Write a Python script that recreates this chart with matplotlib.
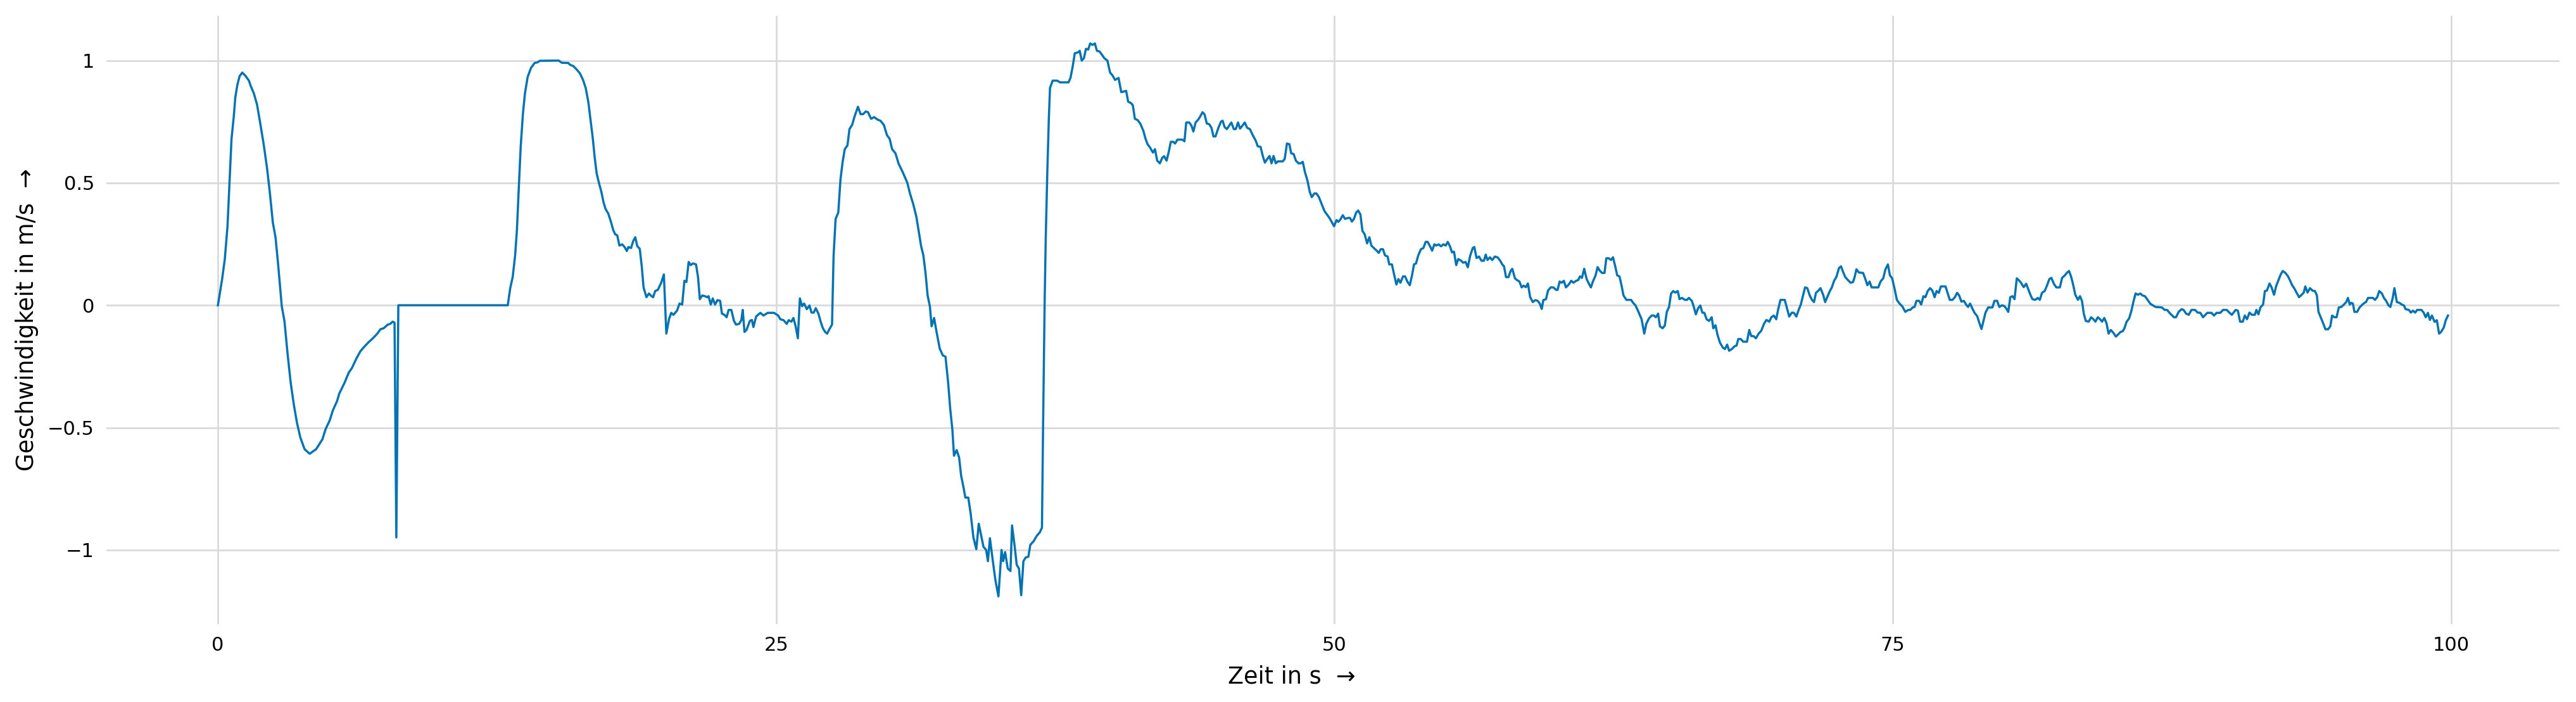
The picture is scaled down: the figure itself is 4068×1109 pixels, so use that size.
import matplotlib.pyplot as plt

zeit = [
    0.00, 0.19, 0.31, 0.43, 0.52, 0.61, 0.71, 0.78, 0.87, 0.97, 1.09, 1.23, 1.39, 1.47, 1.61, 1.75, 1.89,
    2.05, 2.20, 2.33, 2.46, 2.58, 2.69, 2.79, 2.86, 2.98, 3.12, 3.26, 3.40, 3.54, 3.69, 3.88, 4.11, 4.40,
    4.68, 4.82, 5.01, 5.15, 5.34, 5.43, 5.67, 5.86, 6.00, 6.19, 6.38, 6.57, 6.76, 6.95, 7.14, 7.28, 7.42,
    7.61, 7.72, 7.82, 7.91, 7.99, 8.08, 12.98,
    13.09, 13.20, 13.31, 13.39, 13.47, 13.56, 13.66, 13.75, 13.87, 14.02, 14.18, 14.32, 14.41, 15.26,
    15.40, 15.69, 15.78, 15.91, 16.07, 16.21, 16.35, 16.47, 16.59, 16.70, 16.79, 16.87, 16.96, 17.06,
    17.17, 17.27, 17.36, 17.48, 17.61, 17.70, 17.79, 17.88, 17.98, 18.10, 18.21, 18.31, 18.38, 18.50,
    18.60, 18.69, 18.78, 18.89, 18.98, 19.06, 19.19, 19.30, 19.42, 19.49, 19.58, 19.70, 19.85, 19.97,
    20.08, 20.20, 20.30, 20.40, 20.56, 20.67, 20.79, 20.89, 20.98, 21.08, 21.17, 21.27, 21.41, 21.50,
    21.58, 21.69, 21.81, 21.90, 21.97, 22.07, 22.16, 22.26, 22.37, 22.49, 22.57, 22.68, 22.78, 22.87,
    22.99, 23.11, 23.20, 23.34, 23.44, 23.50, 23.58, 23.67, 23.82, 23.91, 23.98, 24.10, 24.29, 24.43,
    24.62, 24.90,
    25.09, 25.18, 25.33, 25.47, 25.56, 25.68, 25.77, 25.87, 25.97, 26.06, 26.16, 26.25, 26.37, 26.49,
    26.58, 26.68, 26.77, 26.89, 26.98, 27.09, 27.19, 27.28, 27.38, 27.50, 27.57, 27.66, 27.78, 27.88,
    27.97, 28.07, 28.19, 28.28, 28.40, 28.51, 28.66, 28.78, 28.89, 29.01, 29.11, 29.25, 29.39, 29.53,
    29.67, 29.82, 29.96, 30.08, 30.19, 30.34, 30.48, 30.67, 30.87, 30.99, 31.14, 31.28, 31.40, 31.49,
    31.59, 31.69, 31.78, 31.88, 31.96, 32.07, 32.18, 32.32, 32.46, 32.58, 32.70, 32.79, 32.89, 32.96,
    33.08, 33.19, 33.28, 33.38, 33.47, 33.60, 33.71, 33.83, 33.96, 34.07, 34.18, 34.28, 34.40, 34.48,
    34.57, 34.68, 34.81, 34.95, 35.09, 35.16, 35.25, 35.37, 35.49, 35.56, 35.68, 35.77, 35.87, 35.97,
    36.07, 36.17, 36.29, 36.38, 36.53, 36.67, 36.81, 36.90, 36.95, 37.02, 37.07, 37.14, 37.21, 37.26,
    37.38, 37.58, 37.71,
    37.85, 38.09, 38.18, 38.28, 38.37, 38.53, 38.59, 38.68, 38.78, 38.87, 38.97, 39.06, 39.17, 39.27,
    39.36, 39.48, 39.60, 39.69, 39.83, 39.95, 40.07, 40.17, 40.33, 40.45, 40.59, 40.67, 40.76, 40.89,
    40.97, 41.06, 41.18, 41.30, 41.44, 41.54, 41.63, 41.73, 41.87, 41.96, 42.06, 42.18, 42.29, 42.37,
    42.48, 42.58, 42.67, 42.78, 42.86, 42.97, 43.10, 43.19, 43.28, 43.36, 43.49, 43.59, 43.68, 43.78,
    43.90, 43.99, 44.09, 44.18, 44.28, 44.39, 44.49, 44.58, 44.67, 44.80, 44.92, 44.99, 45.08, 45.18,
    45.27, 45.38, 45.49, 45.58, 45.68, 45.77, 45.86, 45.98, 46.09, 46.21, 46.34, 46.47, 46.56, 46.69,
    46.78, 46.88, 46.97, 47.09, 47.18, 47.27, 47.37, 47.46, 47.68, 47.77, 47.87, 47.98, 48.06, 48.17,
    48.27, 48.39, 48.48, 48.58, 48.67, 48.79, 48.89, 48.98, 49.10, 49.19, 49.30, 49.43, 49.55, 49.66,
    49.78, 49.98, 50.09, 50.17, 50.26, 50.37, 50.47,
    50.61, 50.69, 50.78, 50.87, 50.97, 51.06, 51.16, 51.25, 51.35, 51.46, 51.56, 51.65, 51.76, 51.89,
    51.98, 52.07, 52.17, 52.26, 52.38, 52.45, 52.57, 52.66, 52.77, 52.86, 52.95, 53.07, 53.16, 53.26,
    53.37, 53.47, 53.56, 53.65, 53.75, 53.87, 53.98, 54.08, 54.17, 54.28, 54.37, 54.47, 54.56, 54.66,
    54.77, 54.88, 54.98, 55.07, 55.17, 55.26, 55.35, 55.45, 55.54, 55.67, 55.76, 55.87, 55.97, 56.07,
    56.19, 56.26, 56.36, 56.47, 56.58, 56.69, 56.77, 56.85, 56.96, 57.06, 57.18, 57.30, 57.42, 57.51,
    57.59, 57.68, 57.79, 57.89, 57.96, 58.08, 58.17, 58.28, 58.38, 58.47, 58.57, 58.66, 58.76, 58.88,
    58.99, 59.10, 59.19, 59.28, 59.35, 59.47, 59.56, 59.68, 59.80, 59.92, 59.99, 60.08, 60.17, 60.27,
    60.36, 60.49, 60.60, 60.70, 60.82, 60.91, 60.99, 61.08, 61.18, 61.29, 61.39, 61.48, 61.57, 61.69,
    61.78, 61.88, 61.98, 62.09, 62.17, 62.28, 62.38, 62.47, 62.57, 62.66, 62.76, 62.85, 62.94, 63.07,
    63.28,
    63.37, 63.48, 63.61, 63.75, 63.81, 63.87, 63.96, 64.08, 64.20, 64.30, 64.39, 64.49, 64.57, 64.69,
    64.79, 64.88, 64.98, 65.07, 65.17, 65.26, 65.37, 65.45, 65.56, 65.69, 65.78, 65.87, 66.00, 66.08,
    66.18, 66.28, 66.38, 66.47, 66.56, 66.66, 66.77, 66.89, 66.96, 67.06, 67.15, 67.26, 67.39, 67.48,
    67.58, 67.67, 67.79, 67.91, 68.00, 68.08, 68.19, 68.30, 68.47, 68.57, 68.66, 68.76, 68.87, 68.99,
    69.11, 69.23, 69.34, 69.47, 69.56, 69.67, 69.78, 69.87, 69.97, 70.16, 70.27, 70.36, 70.48, 70.57,
    70.68, 70.77, 70.88, 70.98, 71.07, 71.17, 71.28, 71.38, 71.47, 71.56, 71.67, 71.76, 71.88, 71.97,
    72.08, 72.18, 72.27, 72.37, 72.47, 72.59, 72.68, 72.77, 72.87, 72.99, 73.11, 73.22, 73.29, 73.37,
    73.48, 73.67, 73.77, 73.86, 73.96, 74.05, 74.35, 74.45, 74.57, 74.67, 74.78, 74.87, 74.97, 75.09,
    75.18, 75.30, 75.42, 75.56, 75.69, 75.78, 75.89, 75.97, 76.06, 76.18,
    76.27, 76.37, 76.46, 76.56, 76.67, 76.77, 76.87, 76.96, 77.06, 77.15, 77.36, 77.45, 77.55, 77.67,
    77.78, 77.88, 77.97, 78.07, 78.18, 78.28, 78.37, 78.46, 78.57, 78.66, 78.78, 78.87, 78.97, 79.06,
    79.15, 79.27, 79.46, 79.55, 79.67, 79.77, 79.89, 80.00, 80.10, 80.17, 80.26, 80.36, 80.45, 80.55,
    80.67, 80.76, 80.86, 80.97, 81.06, 81.16, 81.25, 81.38, 81.49, 81.58, 81.68, 81.80, 81.90, 82.01,
    82.10, 82.21, 82.32, 82.48, 82.58, 82.70, 82.79, 82.89, 82.98, 83.08, 83.17, 83.29, 83.38, 83.47,
    83.55, 83.64, 83.77, 83.88, 83.98, 84.07, 84.18, 84.28, 84.37, 84.47, 84.57, 84.66, 84.76, 84.87,
    84.99, 85.09, 85.20, 85.30, 85.37, 85.47, 85.58, 85.68, 85.77, 85.87, 85.98, 86.08, 86.18, 86.29,
    86.41, 86.53, 86.64, 86.76, 87.05, 87.17, 87.28, 87.42, 87.59, 87.68, 87.80, 87.93, 88.02, 88.13,
    88.25, 88.37, 88.53, 88.65, 88.77,
    88.89, 89.08, 89.27, 89.38, 89.50, 89.66, 89.79, 89.95, 90.07, 90.18, 90.35, 90.45, 90.55, 90.67,
    90.76, 90.86, 90.97, 91.08, 91.21, 91.28, 91.37, 91.46, 91.58, 91.66, 91.75, 91.87, 91.96, 92.07,
    92.17, 92.27, 92.37, 92.46, 92.58, 92.69, 92.78, 92.88, 92.97, 93.10, 93.19, 93.31, 93.40, 93.47,
    93.57, 93.68, 93.79, 93.90, 93.99, 94.06, 94.18, 94.28, 94.37, 94.49, 94.59, 94.67, 94.77, 94.87,
    94.97, 95.08, 95.20, 95.30, 95.38, 95.46, 95.53, 95.60, 95.67, 95.79, 95.90, 96.03, 96.12, 96.19,
    96.28, 96.50, 96.59, 96.69, 96.78, 96.90, 96.99, 97.09, 97.19, 97.28, 97.38, 97.46, 97.57, 97.68,
    97.79, 97.89, 97.96, 98.11, 98.20, 98.29, 98.39, 98.48, 98.67, 98.77, 98.86, 98.96, 99.05, 99.14,
    99.26, 99.36, 99.46, 99.55, 99.67, 99.76, 99.86,
]

geschw = [
    0.000, 0.107, 0.189, 0.323, 0.500, 0.680, 0.770, 0.850, 0.900, 0.936, 0.951, 0.938, 0.918, 0.896,
    0.866, 0.821, 0.747, 0.658, 0.561, 0.457, 0.338, 0.278, 0.174, 0.070, -0.004, -0.064, -0.198,
    -0.317, -0.406, -0.480, -0.540, -0.588, -0.607, -0.588, -0.548, -0.507, -0.470, -0.429, -0.391,
    -0.362, -0.317, -0.275, -0.257, -0.220, -0.188, -0.168, -0.150, -0.134, -0.116, -0.098, -0.094,
    -0.079, -0.076, -0.067, -0.071, -0.949, 0.000, 0.000,
    0.070, 0.115, 0.204, 0.308, 0.472, 0.650, 0.784, 0.866, 0.933, 0.970, 0.990, 0.993, 0.999, 1.000,
    0.991, 0.990, 0.982, 0.978, 0.963, 0.948, 0.921, 0.888, 0.829, 0.747, 0.680, 0.606, 0.539, 0.501,
    0.464, 0.420, 0.393, 0.375, 0.338, 0.308, 0.290, 0.286, 0.244, 0.249, 0.238, 0.222, 0.238, 0.234,
    0.263, 0.278, 0.241, 0.231, 0.159, 0.073, 0.033, 0.048, 0.037, 0.033, 0.058, 0.063, 0.092, 0.126,
    -0.116, -0.057, -0.031, -0.039, -0.022, 0.007, 0.003, 0.100, 0.095, 0.177, 0.164, 0.171, 0.167, 0.115,
    0.025, 0.040, 0.037, 0.033, 0.037, 0.003, 0.028, 0.003, 0.021, 0.018, -0.034, -0.039, -0.049, -0.019,
    -0.019, -0.064, -0.079, -0.076, -0.061, -0.019, -0.109, -0.101, -0.064, -0.060, -0.089, -0.046,
    -0.031, -0.042, -0.031, -0.031,
    -0.042, -0.057, -0.061, -0.076, -0.061, -0.067, -0.052, -0.086, -0.135, 0.028, -0.004, 0.007, -0.016,
    -0.001, -0.030, -0.030, -0.012, -0.034, -0.064, -0.094, -0.109, -0.116, -0.098, -0.079, 0.204, 0.353,
    0.379, 0.516, 0.583, 0.638, 0.653, 0.720, 0.737, 0.772, 0.811, 0.781, 0.781, 0.792, 0.789, 0.762,
    0.769, 0.759, 0.754, 0.737, 0.695, 0.680, 0.638, 0.621, 0.579, 0.543, 0.501, 0.457, 0.412, 0.360,
    0.293, 0.241, 0.204, 0.129, 0.040, -0.004, -0.086, -0.052, -0.109, -0.176, -0.205, -0.210, -0.317,
    -0.421, -0.510, -0.615, -0.592, -0.622, -0.696, -0.741, -0.786, -0.786, -0.853, -0.949, -0.997,
    -0.893, -0.942, -0.987, -1.000, -1.046, -0.952, -1.031, -1.120, -1.190, -1.000, -1.046, -1.009,
    -1.076, -1.086, -0.900, -0.987, -1.061, -1.076, -1.185, -1.046, -1.031, -1.028, -0.979, -0.964,
    -0.942, -0.927, -0.909, -0.496, 0.010, 0.278, 0.546, 0.769, 0.888, 0.918, 0.918, 0.911,
    0.911, 0.911, 0.930, 0.978, 1.030, 1.034, 1.040, 1.000, 1.010, 1.048, 1.045, 1.070, 1.064, 1.070,
    1.040, 1.037, 1.022, 1.010, 1.000, 0.951, 0.938, 0.921, 0.929, 0.871, 0.874, 0.876, 0.832, 0.826,
    0.817, 0.762, 0.757, 0.743, 0.713, 0.680, 0.658, 0.646, 0.624, 0.638, 0.591, 0.580, 0.603, 0.609,
    0.591, 0.628, 0.668, 0.668, 0.661, 0.677, 0.677, 0.677, 0.670, 0.747, 0.747, 0.735, 0.710, 0.747,
    0.759, 0.772, 0.789, 0.780, 0.743, 0.740, 0.725, 0.690, 0.690, 0.725, 0.751, 0.754, 0.728, 0.720,
    0.732, 0.747, 0.720, 0.720, 0.747, 0.722, 0.732, 0.747, 0.725, 0.720, 0.695, 0.673, 0.650, 0.647,
    0.613, 0.583, 0.595, 0.610, 0.580, 0.610, 0.580, 0.588, 0.588, 0.598, 0.661, 0.658, 0.621, 0.618,
    0.591, 0.580, 0.580, 0.586, 0.546, 0.509, 0.464, 0.442, 0.457, 0.457, 0.442, 0.412, 0.385, 0.371,
    0.356, 0.323, 0.348, 0.341, 0.350, 0.368, 0.353,
    0.357, 0.357, 0.342, 0.353, 0.379, 0.387, 0.371, 0.304, 0.290, 0.253, 0.278, 0.244, 0.234, 0.223,
    0.214, 0.229, 0.229, 0.204, 0.199, 0.167, 0.167, 0.129, 0.085, 0.107, 0.092, 0.118, 0.118, 0.097,
    0.082, 0.122, 0.167, 0.171, 0.204, 0.229, 0.234, 0.259, 0.259, 0.241, 0.223, 0.249, 0.244, 0.249,
    0.241, 0.249, 0.244, 0.259, 0.241, 0.216, 0.219, 0.164, 0.189, 0.182, 0.174, 0.177, 0.155, 0.201,
    0.234, 0.238, 0.193, 0.199, 0.182, 0.182, 0.207, 0.185, 0.196, 0.185, 0.199, 0.196, 0.182, 0.167,
    0.159, 0.115, 0.115, 0.141, 0.149, 0.110, 0.103, 0.097, 0.073, 0.080, 0.074, 0.089, 0.033, 0.013,
    0.021, 0.018, 0.007, -0.015, 0.021, 0.025, 0.060, 0.073, 0.073, 0.063, 0.063, 0.097, 0.092, 0.100,
    0.073, 0.085, 0.100, 0.092, 0.100, 0.103, 0.118, 0.112, 0.149, 0.107, 0.088, 0.073, 0.097, 0.122,
    0.156, 0.141, 0.132, 0.132, 0.192, 0.192, 0.185, 0.196, 0.159, 0.122, 0.118, 0.082, 0.040, 0.022,
    0.022,
    0.010, -0.001, -0.027, -0.057, -0.086, -0.116, -0.076, -0.054, -0.042, -0.042, -0.049, -0.034, -0.086,
    -0.094, -0.083, -0.027, -0.007, 0.048, 0.058, 0.052, 0.058, 0.025, 0.030, 0.022, 0.022, 0.030, 0.018,
    -0.004, -0.037, -0.012, -0.001, -0.030, -0.031, -0.057, -0.064, -0.049, -0.094, -0.082, -0.121,
    -0.153, -0.173, -0.179, -0.161, -0.186, -0.179, -0.168, -0.165, -0.138, -0.138, -0.149, -0.149,
    -0.101, -0.126, -0.126, -0.135, -0.116, -0.104, -0.076, -0.060, -0.067, -0.049, -0.042, -0.057,
    -0.015, 0.022, 0.022, -0.016, -0.046, -0.030, -0.031, -0.046, -0.022, 0.003, 0.040, 0.073, 0.070,
    0.040, 0.022, 0.013, 0.051, 0.060, 0.070, 0.043, 0.013, 0.037, 0.058, 0.073, 0.100, 0.115, 0.152,
    0.159, 0.137, 0.115, 0.103, 0.092, 0.095, 0.115, 0.147, 0.134, 0.132, 0.107, 0.082, 0.097, 0.073,
    0.073, 0.097, 0.110, 0.147, 0.167, 0.122, 0.110, 0.063, 0.022, 0.007, -0.004, -0.027, -0.019, -0.019,
    -0.009, -0.007, 0.018, 0.018,
    0.003, 0.037, 0.033, 0.058, 0.070, 0.060, 0.033, 0.058, 0.051, 0.077, 0.077, 0.051, 0.022, 0.022,
    0.033, 0.051, 0.040, 0.015, 0.018, 0.003, -0.007, 0.007, -0.015, -0.031, -0.045, -0.071, -0.097,
    -0.064, -0.030, -0.009, -0.009, 0.018, 0.018, -0.007, 0.000, -0.004, -0.016, -0.027, 0.033, 0.037,
    0.025, 0.110, 0.100, 0.089, 0.074, 0.088, 0.067, 0.043, 0.025, 0.022, 0.030, 0.022, 0.051, 0.058,
    0.080, 0.107, 0.112, 0.088, 0.073, 0.073, 0.112, 0.122, 0.132, 0.140, 0.118, 0.082, 0.043, 0.022,
    0.037, 0.018, -0.034, -0.064, -0.067, -0.049, -0.057, -0.067, -0.049, -0.057, -0.067, -0.052, -0.074,
    -0.116, -0.101, -0.112, -0.128, -0.119, -0.109, -0.106, -0.094, -0.067, -0.054, -0.024, 0.013, 0.048,
    0.043, 0.048, 0.040, 0.037, 0.022, 0.006, 0.000, -0.007, -0.009, -0.019, -0.019, -0.034, -0.049,
    -0.049, -0.027, -0.016, -0.019, -0.034, -0.039, -0.019, -0.019, -0.030, -0.031,
    -0.049, -0.031, -0.031, -0.042, -0.031, -0.031, -0.019, -0.019, -0.030, -0.039, -0.019, -0.022,
    -0.067, -0.067, -0.042, -0.057, -0.030, -0.039, -0.039, -0.019, -0.037, -0.009, 0.003, 0.058, 0.060,
    0.089, 0.073, 0.043, 0.080, 0.103, 0.126, 0.140, 0.132, 0.119, 0.103, 0.082, 0.070, 0.048, 0.033,
    0.043, 0.052, 0.077, 0.052, 0.070, 0.060, 0.058, 0.040, -0.027, -0.054, -0.076, -0.098, -0.098,
    -0.086, -0.042, -0.049, -0.049, -0.009, -0.007, 0.003, 0.013, 0.030, 0.003, 0.010, 0.007, -0.027,
    -0.027, -0.009, 0.003, 0.010, 0.013, 0.030, 0.030, 0.022, 0.033, 0.058, 0.048, 0.030, 0.018, 0.000,
    -0.007, 0.028, 0.070, 0.013, 0.010, 0.003, -0.001, -0.016, -0.019, -0.030, -0.022, -0.030, -0.019,
    -0.019, -0.030, -0.049, -0.031, -0.060, -0.042, -0.068, -0.061, -0.116, -0.109, -0.091, -0.061,
    -0.042,
]

x_ticks = [0, 25, 50, 75, 100]
x_ticklabels = ["0", "25", "50", "75", "100"]
y_ticks = [-1, -0.5, 0, 0.5, 1]
y_ticklabels = ["\u22121", "\u22120.5", "0", "0.5", "1"]

fig = plt.figure(figsize=(20.34, 5.545), dpi=200)
ax = fig.add_axes([0.0413, 0.111, 0.9523, 0.8665])

ax.plot(zeit, geschw, color="#0173b2", linewidth=1.25)

ax.set_xticks(x_ticks)
ax.set_xticklabels(x_ticklabels)
ax.set_yticks(y_ticks)
ax.set_yticklabels(y_ticklabels)
ax.tick_params(length=0, pad=6.8, labelsize=11)

ax.set_xlabel("Zeit in s  \u2192", fontsize=13.2, labelpad=5)
ax.xaxis.set_label_coords(0.4833, -0.067)
ax.set_ylabel("Geschwindigkeit in m/s  \u2192", fontsize=13.2, labelpad=5)

for spine in ax.spines.values():
    spine.set_visible(False)

ax.grid(True, color="#dadada", linewidth=1.0)
ax.set_axisbelow(True)

fig.savefig("out.png", dpi=200)
